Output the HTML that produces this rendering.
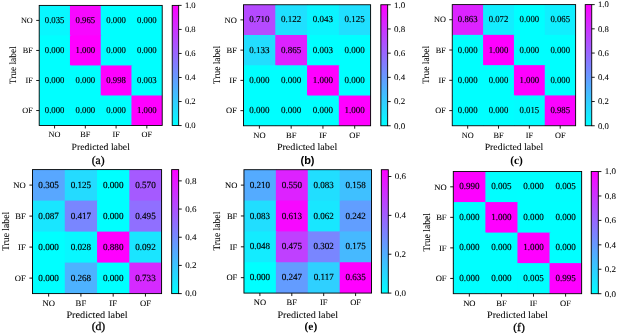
<!DOCTYPE html>
<html><head><meta charset="utf-8"><style>
html,body{margin:0;padding:0;background:#fff;width:617px;height:333px;overflow:hidden}
svg{display:block}
text{font-family:"Liberation Serif","Times New Roman",serif;fill:#000;text-rendering:geometricPrecision;stroke:#000;stroke-width:0.06px}
.n{font-size:8.77px;text-anchor:middle;stroke-width:0.14px}
.tl{font-size:8.3px}
.cbl{font-size:8.7px}
.pl{font-size:9.87px}
.tlab{font-size:9.7px}
.capb{font-weight:bold;stroke-width:0}
.capm{stroke-width:0.3px}
.caps{font-family:"Liberation Sans",Arial,sans-serif}
.t{stroke:#000;stroke-width:0.9;fill:none}
.fr{fill:none;stroke:#000;stroke-width:0.9}
</style></head><body>
<svg width="617" height="333" viewBox="0 0 617 333"><defs><linearGradient id="cool" x1="0" y1="1" x2="0" y2="0"><stop offset="0" stop-color="#00ffff"/><stop offset="1" stop-color="#ff00ff"/></linearGradient></defs><rect width="617" height="333" fill="#fff"/><rect x="39.2" y="5.4" width="31.75" height="31.025" fill="#08f7ff"/><rect x="69.95" y="5.4" width="31.75" height="31.025" fill="#f708ff"/><rect x="100.7" y="5.4" width="31.75" height="31.025" fill="#00ffff"/><rect x="131.45" y="5.4" width="30.75" height="31.025" fill="#00ffff"/><rect x="39.2" y="35.425" width="31.75" height="31.025" fill="#00ffff"/><rect x="69.95" y="35.425" width="31.75" height="31.025" fill="#ff00ff"/><rect x="100.7" y="35.425" width="31.75" height="31.025" fill="#00ffff"/><rect x="131.45" y="35.425" width="30.75" height="31.025" fill="#00ffff"/><rect x="39.2" y="65.45" width="31.75" height="31.025" fill="#00ffff"/><rect x="69.95" y="65.45" width="31.75" height="31.025" fill="#00ffff"/><rect x="100.7" y="65.45" width="31.75" height="31.025" fill="#ff00ff"/><rect x="131.45" y="65.45" width="30.75" height="31.025" fill="#00ffff"/><rect x="39.2" y="95.475" width="31.75" height="30.025" fill="#00ffff"/><rect x="69.95" y="95.475" width="31.75" height="30.025" fill="#00ffff"/><rect x="100.7" y="95.475" width="31.75" height="30.025" fill="#00ffff"/><rect x="131.45" y="95.475" width="30.75" height="30.025" fill="#ff00ff"/><rect x="172.2" y="5.4" width="6.45" height="120.1" fill="url(#cool)"/><g transform="translate(39.2 5.4) scale(0.992 0.969)"><text class="n" transform="translate(15.5 18.15) scale(1 1.07)">0.035</text><text class="n" transform="translate(46.5 18.15) scale(1 1.07)">0.965</text><text class="n" transform="translate(77.5 18.15) scale(1 1.07)">0.000</text><text class="n" transform="translate(108.5 18.15) scale(1 1.07)">0.000</text><text class="n" transform="translate(15.5 49.15) scale(1 1.07)">0.000</text><text class="n" transform="translate(46.5 49.15) scale(1 1.07)">1.000</text><text class="n" transform="translate(77.5 49.15) scale(1 1.07)">0.000</text><text class="n" transform="translate(108.5 49.15) scale(1 1.07)">0.000</text><text class="n" transform="translate(15.5 80.15) scale(1 1.07)">0.000</text><text class="n" transform="translate(46.5 80.15) scale(1 1.07)">0.000</text><text class="n" transform="translate(77.5 80.15) scale(1 1.07)">0.998</text><text class="n" transform="translate(108.5 80.15) scale(1 1.07)">0.003</text><text class="n" transform="translate(15.5 111.15) scale(1 1.07)">0.000</text><text class="n" transform="translate(46.5 111.15) scale(1 1.07)">0.000</text><text class="n" transform="translate(77.5 111.15) scale(1 1.07)">0.000</text><text class="n" transform="translate(108.5 111.15) scale(1 1.07)">1.000</text><rect x="0" y="0" width="124" height="124" class="fr"/><path d="M-3 15.5H0" class="t"/><text class="tl" x="-6.45" y="18.27" text-anchor="end">NO</text><path d="M-3 46.5H0" class="t"/><text class="tl" x="-6.45" y="49.27" text-anchor="end">BF</text><path d="M-3 77.5H0" class="t"/><text class="tl" x="-6.45" y="80.27" text-anchor="end">IF</text><path d="M-3 108.5H0" class="t"/><text class="tl" x="-6.45" y="111.27" text-anchor="end">OF</text><path d="M15.5 124V127" class="t"/><text class="tl" x="15.5" y="136.2" text-anchor="middle">NO</text><path d="M46.5 124V127" class="t"/><text class="tl" x="46.5" y="136.2" text-anchor="middle">BF</text><path d="M77.5 124V127" class="t"/><text class="tl" x="77.5" y="136.2" text-anchor="middle">IF</text><path d="M108.5 124V127" class="t"/><text class="tl" x="108.5" y="136.2" text-anchor="middle">OF</text><text class="pl" x="62" y="148.85" text-anchor="middle">Predicted label</text><text class="tlab" transform="translate(-22.9 61.8) rotate(-90)" text-anchor="middle">True label</text><rect x="134.081" y="0" width="6.502" height="124" class="fr"/><path d="M140.584 124H143.584" class="t"/><text class="cbl" x="146.884" y="126.9">0.0</text><path d="M140.584 99.2H143.584" class="t"/><text class="cbl" x="146.884" y="102.1">0.2</text><path d="M140.584 74.4H143.584" class="t"/><text class="cbl" x="146.884" y="77.3">0.4</text><path d="M140.584 49.6H143.584" class="t"/><text class="cbl" x="146.884" y="52.5">0.6</text><path d="M140.584 24.8H143.584" class="t"/><text class="cbl" x="146.884" y="27.7">0.8</text><path d="M140.584 0H143.584" class="t"/><text class="cbl" x="146.884" y="2.9">1.0</text></g><text class="cap capm" x="98.2" y="163.6" text-anchor="middle" style="font-size:11.6px">(a)</text><rect x="243.5" y="4.75" width="32.775" height="31.262" fill="#b54aff"/><rect x="275.275" y="4.75" width="32.775" height="31.262" fill="#1fe0ff"/><rect x="307.05" y="4.75" width="32.775" height="31.262" fill="#0bf4ff"/><rect x="338.825" y="4.75" width="31.775" height="31.262" fill="#20dfff"/><rect x="243.5" y="35.013" width="32.775" height="31.262" fill="#22ddff"/><rect x="275.275" y="35.013" width="32.775" height="31.262" fill="#dd22ff"/><rect x="307.05" y="35.013" width="32.775" height="31.262" fill="#00ffff"/><rect x="338.825" y="35.013" width="31.775" height="31.262" fill="#00ffff"/><rect x="243.5" y="65.275" width="32.775" height="31.262" fill="#00ffff"/><rect x="275.275" y="65.275" width="32.775" height="31.262" fill="#00ffff"/><rect x="307.05" y="65.275" width="32.775" height="31.262" fill="#ff00ff"/><rect x="338.825" y="65.275" width="31.775" height="31.262" fill="#00ffff"/><rect x="243.5" y="95.537" width="32.775" height="30.262" fill="#00ffff"/><rect x="275.275" y="95.537" width="32.775" height="30.262" fill="#00ffff"/><rect x="307.05" y="95.537" width="32.775" height="30.262" fill="#00ffff"/><rect x="338.825" y="95.537" width="31.775" height="30.262" fill="#ff00ff"/><rect x="380.85" y="4.75" width="6.8" height="121.05" fill="url(#cool)"/><g transform="translate(243.5 4.75) scale(1.025 0.976)"><text class="n" transform="translate(15.5 18.15) scale(1 1.07)">0.710</text><text class="n" transform="translate(46.5 18.15) scale(1 1.07)">0.122</text><text class="n" transform="translate(77.5 18.15) scale(1 1.07)">0.043</text><text class="n" transform="translate(108.5 18.15) scale(1 1.07)">0.125</text><text class="n" transform="translate(15.5 49.15) scale(1 1.07)">0.133</text><text class="n" transform="translate(46.5 49.15) scale(1 1.07)">0.865</text><text class="n" transform="translate(77.5 49.15) scale(1 1.07)">0.003</text><text class="n" transform="translate(108.5 49.15) scale(1 1.07)">0.000</text><text class="n" transform="translate(15.5 80.15) scale(1 1.07)">0.000</text><text class="n" transform="translate(46.5 80.15) scale(1 1.07)">0.000</text><text class="n" transform="translate(77.5 80.15) scale(1 1.07)">1.000</text><text class="n" transform="translate(108.5 80.15) scale(1 1.07)">0.000</text><text class="n" transform="translate(15.5 111.15) scale(1 1.07)">0.000</text><text class="n" transform="translate(46.5 111.15) scale(1 1.07)">0.000</text><text class="n" transform="translate(77.5 111.15) scale(1 1.07)">0.000</text><text class="n" transform="translate(108.5 111.15) scale(1 1.07)">1.000</text><rect x="0" y="0" width="124" height="124" class="fr"/><path d="M-3 15.5H0" class="t"/><text class="tl" x="-6.45" y="18.27" text-anchor="end">NO</text><path d="M-3 46.5H0" class="t"/><text class="tl" x="-6.45" y="49.27" text-anchor="end">BF</text><path d="M-3 77.5H0" class="t"/><text class="tl" x="-6.45" y="80.27" text-anchor="end">IF</text><path d="M-3 108.5H0" class="t"/><text class="tl" x="-6.45" y="111.27" text-anchor="end">OF</text><path d="M15.5 124V127" class="t"/><text class="tl" x="15.5" y="136.2" text-anchor="middle">NO</text><path d="M46.5 124V127" class="t"/><text class="tl" x="46.5" y="136.2" text-anchor="middle">BF</text><path d="M77.5 124V127" class="t"/><text class="tl" x="77.5" y="136.2" text-anchor="middle">IF</text><path d="M108.5 124V127" class="t"/><text class="tl" x="108.5" y="136.2" text-anchor="middle">OF</text><text class="pl" x="62" y="148.85" text-anchor="middle">Predicted label</text><text class="tlab" transform="translate(-22.9 61.8) rotate(-90)" text-anchor="middle">True label</text><rect x="134" y="0" width="6.634" height="124" class="fr"/><path d="M140.634 124H143.634" class="t"/><text class="cbl" x="146.934" y="126.9">0.0</text><path d="M140.634 99.2H143.634" class="t"/><text class="cbl" x="146.934" y="102.1">0.2</text><path d="M140.634 74.4H143.634" class="t"/><text class="cbl" x="146.934" y="77.3">0.4</text><path d="M140.634 49.6H143.634" class="t"/><text class="cbl" x="146.934" y="52.5">0.6</text><path d="M140.634 24.8H143.634" class="t"/><text class="cbl" x="146.934" y="27.7">0.8</text><path d="M140.634 0H143.634" class="t"/><text class="cbl" x="146.934" y="2.9">1.0</text></g><text class="cap caps capb" x="307.5" y="163.8" text-anchor="middle" style="font-size:11px">(b)</text><rect x="452.25" y="4.6" width="31.838" height="31.275" fill="#dc23ff"/><rect x="483.087" y="4.6" width="31.838" height="31.275" fill="#12edff"/><rect x="513.925" y="4.6" width="31.838" height="31.275" fill="#00ffff"/><rect x="544.763" y="4.6" width="30.838" height="31.275" fill="#10efff"/><rect x="452.25" y="34.875" width="31.838" height="31.275" fill="#00ffff"/><rect x="483.087" y="34.875" width="31.838" height="31.275" fill="#ff00ff"/><rect x="513.925" y="34.875" width="31.838" height="31.275" fill="#00ffff"/><rect x="544.763" y="34.875" width="30.838" height="31.275" fill="#00ffff"/><rect x="452.25" y="65.15" width="31.838" height="31.275" fill="#00ffff"/><rect x="483.087" y="65.15" width="31.838" height="31.275" fill="#00ffff"/><rect x="513.925" y="65.15" width="31.838" height="31.275" fill="#ff00ff"/><rect x="544.763" y="65.15" width="30.838" height="31.275" fill="#00ffff"/><rect x="452.25" y="95.425" width="31.838" height="30.275" fill="#00ffff"/><rect x="483.087" y="95.425" width="31.838" height="30.275" fill="#00ffff"/><rect x="513.925" y="95.425" width="31.838" height="30.275" fill="#03fcff"/><rect x="544.763" y="95.425" width="30.838" height="30.275" fill="#fc03ff"/><rect x="585.2" y="4.6" width="6.5" height="121.1" fill="url(#cool)"/><g transform="translate(452.25 4.6) scale(0.995 0.977)"><text class="n" transform="translate(15.5 18.15) scale(1 1.07)">0.863</text><text class="n" transform="translate(46.5 18.15) scale(1 1.07)">0.072</text><text class="n" transform="translate(77.5 18.15) scale(1 1.07)">0.000</text><text class="n" transform="translate(108.5 18.15) scale(1 1.07)">0.065</text><text class="n" transform="translate(15.5 49.15) scale(1 1.07)">0.000</text><text class="n" transform="translate(46.5 49.15) scale(1 1.07)">1.000</text><text class="n" transform="translate(77.5 49.15) scale(1 1.07)">0.000</text><text class="n" transform="translate(108.5 49.15) scale(1 1.07)">0.000</text><text class="n" transform="translate(15.5 80.15) scale(1 1.07)">0.000</text><text class="n" transform="translate(46.5 80.15) scale(1 1.07)">0.000</text><text class="n" transform="translate(77.5 80.15) scale(1 1.07)">1.000</text><text class="n" transform="translate(108.5 80.15) scale(1 1.07)">0.000</text><text class="n" transform="translate(15.5 111.15) scale(1 1.07)">0.000</text><text class="n" transform="translate(46.5 111.15) scale(1 1.07)">0.000</text><text class="n" transform="translate(77.5 111.15) scale(1 1.07)">0.015</text><text class="n" transform="translate(108.5 111.15) scale(1 1.07)">0.985</text><rect x="0" y="0" width="124" height="124" class="fr"/><path d="M-3 15.5H0" class="t"/><text class="tl" x="-6.45" y="18.27" text-anchor="end">NO</text><path d="M-3 46.5H0" class="t"/><text class="tl" x="-6.45" y="49.27" text-anchor="end">BF</text><path d="M-3 77.5H0" class="t"/><text class="tl" x="-6.45" y="80.27" text-anchor="end">IF</text><path d="M-3 108.5H0" class="t"/><text class="tl" x="-6.45" y="111.27" text-anchor="end">OF</text><path d="M15.5 124V127" class="t"/><text class="tl" x="15.5" y="136.2" text-anchor="middle">NO</text><path d="M46.5 124V127" class="t"/><text class="tl" x="46.5" y="136.2" text-anchor="middle">BF</text><path d="M77.5 124V127" class="t"/><text class="tl" x="77.5" y="136.2" text-anchor="middle">IF</text><path d="M108.5 124V127" class="t"/><text class="tl" x="108.5" y="136.2" text-anchor="middle">OF</text><text class="pl" x="62" y="148.85" text-anchor="middle">Predicted label</text><text class="tlab" transform="translate(-22.9 61.8) rotate(-90)" text-anchor="middle">True label</text><rect x="133.651" y="0" width="6.534" height="124" class="fr"/><path d="M140.185 124H143.185" class="t"/><text class="cbl" x="146.485" y="126.9">0.0</text><path d="M140.185 99.2H143.185" class="t"/><text class="cbl" x="146.485" y="102.1">0.2</text><path d="M140.185 74.4H143.185" class="t"/><text class="cbl" x="146.485" y="77.3">0.4</text><path d="M140.185 49.6H143.185" class="t"/><text class="cbl" x="146.485" y="52.5">0.6</text><path d="M140.185 24.8H143.185" class="t"/><text class="cbl" x="146.485" y="27.7">0.8</text><path d="M140.185 0H143.185" class="t"/><text class="cbl" x="146.485" y="2.9">1.0</text></g><text class="cap capb" x="516.6" y="163.9" text-anchor="middle" style="font-size:11.4px">(c)</text><rect x="32.5" y="169.6" width="33.275" height="32" fill="#58a7ff"/><rect x="64.775" y="169.6" width="33.275" height="32" fill="#24dbff"/><rect x="97.05" y="169.6" width="33.275" height="32" fill="#00ffff"/><rect x="129.325" y="169.6" width="32.275" height="32" fill="#a55aff"/><rect x="32.5" y="200.6" width="33.275" height="32" fill="#19e6ff"/><rect x="64.775" y="200.6" width="33.275" height="32" fill="#7986ff"/><rect x="97.05" y="200.6" width="33.275" height="32" fill="#00ffff"/><rect x="129.325" y="200.6" width="32.275" height="32" fill="#906fff"/><rect x="32.5" y="231.6" width="33.275" height="32" fill="#00ffff"/><rect x="64.775" y="231.6" width="33.275" height="32" fill="#08f7ff"/><rect x="97.05" y="231.6" width="33.275" height="32" fill="#ff00ff"/><rect x="129.325" y="231.6" width="32.275" height="32" fill="#1ae5ff"/><rect x="32.5" y="262.6" width="33.275" height="31" fill="#00ffff"/><rect x="64.775" y="262.6" width="33.275" height="31" fill="#4db2ff"/><rect x="97.05" y="262.6" width="33.275" height="31" fill="#00ffff"/><rect x="129.325" y="262.6" width="32.275" height="31" fill="#d52aff"/><rect x="171.7" y="169.6" width="6.95" height="124" fill="url(#cool)"/><g transform="translate(32.5 169.6) scale(1.041 1)"><text class="n" transform="translate(15.5 18.15) scale(1 1.07)">0.305</text><text class="n" transform="translate(46.5 18.15) scale(1 1.07)">0.125</text><text class="n" transform="translate(77.5 18.15) scale(1 1.07)">0.000</text><text class="n" transform="translate(108.5 18.15) scale(1 1.07)">0.570</text><text class="n" transform="translate(15.5 49.15) scale(1 1.07)">0.087</text><text class="n" transform="translate(46.5 49.15) scale(1 1.07)">0.417</text><text class="n" transform="translate(77.5 49.15) scale(1 1.07)">0.000</text><text class="n" transform="translate(108.5 49.15) scale(1 1.07)">0.495</text><text class="n" transform="translate(15.5 80.15) scale(1 1.07)">0.000</text><text class="n" transform="translate(46.5 80.15) scale(1 1.07)">0.028</text><text class="n" transform="translate(77.5 80.15) scale(1 1.07)">0.880</text><text class="n" transform="translate(108.5 80.15) scale(1 1.07)">0.092</text><text class="n" transform="translate(15.5 111.15) scale(1 1.07)">0.000</text><text class="n" transform="translate(46.5 111.15) scale(1 1.07)">0.268</text><text class="n" transform="translate(77.5 111.15) scale(1 1.07)">0.000</text><text class="n" transform="translate(108.5 111.15) scale(1 1.07)">0.733</text><rect x="0" y="0" width="124" height="124" class="fr"/><path d="M-3 15.5H0" class="t"/><text class="tl" x="-6.45" y="18.27" text-anchor="end">NO</text><path d="M-3 46.5H0" class="t"/><text class="tl" x="-6.45" y="49.27" text-anchor="end">BF</text><path d="M-3 77.5H0" class="t"/><text class="tl" x="-6.45" y="80.27" text-anchor="end">IF</text><path d="M-3 108.5H0" class="t"/><text class="tl" x="-6.45" y="111.27" text-anchor="end">OF</text><path d="M15.5 124V127" class="t"/><text class="tl" x="15.5" y="136.2" text-anchor="middle">NO</text><path d="M46.5 124V127" class="t"/><text class="tl" x="46.5" y="136.2" text-anchor="middle">BF</text><path d="M77.5 124V127" class="t"/><text class="tl" x="77.5" y="136.2" text-anchor="middle">IF</text><path d="M108.5 124V127" class="t"/><text class="tl" x="108.5" y="136.2" text-anchor="middle">OF</text><text class="pl" x="62" y="148.85" text-anchor="middle">Predicted label</text><text class="tlab" transform="translate(-22.9 61.8) rotate(-90)" text-anchor="middle">True label</text><rect x="133.701" y="0" width="6.675" height="124" class="fr"/><path d="M140.376 124H143.376" class="t"/><text class="cbl" x="146.676" y="126.9">0.0</text><path d="M140.376 95.818H143.376" class="t"/><text class="cbl" x="146.676" y="98.718">0.2</text><path d="M140.376 67.636H143.376" class="t"/><text class="cbl" x="146.676" y="70.536">0.4</text><path d="M140.376 39.455H143.376" class="t"/><text class="cbl" x="146.676" y="42.355">0.6</text><path d="M140.376 11.273H143.376" class="t"/><text class="cbl" x="146.676" y="14.173">0.8</text></g><text class="cap capm" x="98.4" y="330.2" text-anchor="middle" style="font-size:11.6px">(d)</text><rect x="243.95" y="169.7" width="32.913" height="31.85" fill="#54abff"/><rect x="275.863" y="169.7" width="32.913" height="31.85" fill="#dd22ff"/><rect x="307.775" y="169.7" width="32.913" height="31.85" fill="#21deff"/><rect x="339.688" y="169.7" width="31.913" height="31.85" fill="#3fc0ff"/><rect x="243.95" y="200.55" width="32.913" height="31.85" fill="#21deff"/><rect x="275.863" y="200.55" width="32.913" height="31.85" fill="#f708ff"/><rect x="307.775" y="200.55" width="32.913" height="31.85" fill="#18e7ff"/><rect x="339.688" y="200.55" width="31.913" height="31.85" fill="#619eff"/><rect x="243.95" y="231.4" width="32.913" height="31.85" fill="#13ecff"/><rect x="275.863" y="231.4" width="32.913" height="31.85" fill="#bf40ff"/><rect x="307.775" y="231.4" width="32.913" height="31.85" fill="#7986ff"/><rect x="339.688" y="231.4" width="31.913" height="31.85" fill="#46b9ff"/><rect x="243.95" y="262.25" width="32.913" height="30.85" fill="#00ffff"/><rect x="275.863" y="262.25" width="32.913" height="30.85" fill="#639cff"/><rect x="307.775" y="262.25" width="32.913" height="30.85" fill="#2fd0ff"/><rect x="339.688" y="262.25" width="31.913" height="30.85" fill="#ff00ff"/><rect x="381.4" y="169.7" width="6.95" height="123.4" fill="url(#cool)"/><g transform="translate(243.95 169.7) scale(1.029 0.995)"><text class="n" transform="translate(15.5 18.15) scale(1 1.07)">0.210</text><text class="n" transform="translate(46.5 18.15) scale(1 1.07)">0.550</text><text class="n" transform="translate(77.5 18.15) scale(1 1.07)">0.083</text><text class="n" transform="translate(108.5 18.15) scale(1 1.07)">0.158</text><text class="n" transform="translate(15.5 49.15) scale(1 1.07)">0.083</text><text class="n" transform="translate(46.5 49.15) scale(1 1.07)">0.613</text><text class="n" transform="translate(77.5 49.15) scale(1 1.07)">0.062</text><text class="n" transform="translate(108.5 49.15) scale(1 1.07)">0.242</text><text class="n" transform="translate(15.5 80.15) scale(1 1.07)">0.048</text><text class="n" transform="translate(46.5 80.15) scale(1 1.07)">0.475</text><text class="n" transform="translate(77.5 80.15) scale(1 1.07)">0.302</text><text class="n" transform="translate(108.5 80.15) scale(1 1.07)">0.175</text><text class="n" transform="translate(15.5 111.15) scale(1 1.07)">0.000</text><text class="n" transform="translate(46.5 111.15) scale(1 1.07)">0.247</text><text class="n" transform="translate(77.5 111.15) scale(1 1.07)">0.117</text><text class="n" transform="translate(108.5 111.15) scale(1 1.07)">0.635</text><rect x="0" y="0" width="124" height="124" class="fr"/><path d="M-3 15.5H0" class="t"/><text class="tl" x="-6.45" y="18.27" text-anchor="end">NO</text><path d="M-3 46.5H0" class="t"/><text class="tl" x="-6.45" y="49.27" text-anchor="end">BF</text><path d="M-3 77.5H0" class="t"/><text class="tl" x="-6.45" y="80.27" text-anchor="end">IF</text><path d="M-3 108.5H0" class="t"/><text class="tl" x="-6.45" y="111.27" text-anchor="end">OF</text><path d="M15.5 124V127" class="t"/><text class="tl" x="15.5" y="136.2" text-anchor="middle">NO</text><path d="M46.5 124V127" class="t"/><text class="tl" x="46.5" y="136.2" text-anchor="middle">BF</text><path d="M77.5 124V127" class="t"/><text class="tl" x="77.5" y="136.2" text-anchor="middle">IF</text><path d="M108.5 124V127" class="t"/><text class="tl" x="108.5" y="136.2" text-anchor="middle">OF</text><text class="pl" x="62" y="148.85" text-anchor="middle">Predicted label</text><text class="tlab" transform="translate(-22.9 61.8) rotate(-90)" text-anchor="middle">True label</text><rect x="133.52" y="0" width="6.751" height="124" class="fr"/><path d="M140.271 124H143.271" class="t"/><text class="cbl" x="146.571" y="126.9">0.0</text><path d="M140.271 84.945H143.271" class="t"/><text class="cbl" x="146.571" y="87.845">0.2</text><path d="M140.271 45.89H143.271" class="t"/><text class="cbl" x="146.571" y="48.79">0.4</text><path d="M140.271 6.835H143.271" class="t"/><text class="cbl" x="146.571" y="9.735">0.6</text></g><text class="cap capb" x="310.9" y="330.4" text-anchor="middle" style="font-size:11.4px">(e)</text><rect x="453.3" y="171.55" width="33.075" height="31.525" fill="#fd02ff"/><rect x="485.375" y="171.55" width="33.075" height="31.525" fill="#01feff"/><rect x="517.45" y="171.55" width="33.075" height="31.525" fill="#00ffff"/><rect x="549.525" y="171.55" width="32.075" height="31.525" fill="#01feff"/><rect x="453.3" y="202.075" width="33.075" height="31.525" fill="#00ffff"/><rect x="485.375" y="202.075" width="33.075" height="31.525" fill="#ff00ff"/><rect x="517.45" y="202.075" width="33.075" height="31.525" fill="#00ffff"/><rect x="549.525" y="202.075" width="32.075" height="31.525" fill="#00ffff"/><rect x="453.3" y="232.6" width="33.075" height="31.525" fill="#00ffff"/><rect x="485.375" y="232.6" width="33.075" height="31.525" fill="#00ffff"/><rect x="517.45" y="232.6" width="33.075" height="31.525" fill="#ff00ff"/><rect x="549.525" y="232.6" width="32.075" height="31.525" fill="#00ffff"/><rect x="453.3" y="263.125" width="33.075" height="30.525" fill="#00ffff"/><rect x="485.375" y="263.125" width="33.075" height="30.525" fill="#00ffff"/><rect x="517.45" y="263.125" width="33.075" height="30.525" fill="#01feff"/><rect x="549.525" y="263.125" width="32.075" height="30.525" fill="#fe01ff"/><rect x="591.2" y="171.55" width="7.05" height="122.1" fill="url(#cool)"/><g transform="translate(453.3 171.55) scale(1.035 0.985)"><text class="n" transform="translate(15.5 18.15) scale(1 1.07)">0.990</text><text class="n" transform="translate(46.5 18.15) scale(1 1.07)">0.005</text><text class="n" transform="translate(77.5 18.15) scale(1 1.07)">0.000</text><text class="n" transform="translate(108.5 18.15) scale(1 1.07)">0.005</text><text class="n" transform="translate(15.5 49.15) scale(1 1.07)">0.000</text><text class="n" transform="translate(46.5 49.15) scale(1 1.07)">1.000</text><text class="n" transform="translate(77.5 49.15) scale(1 1.07)">0.000</text><text class="n" transform="translate(108.5 49.15) scale(1 1.07)">0.000</text><text class="n" transform="translate(15.5 80.15) scale(1 1.07)">0.000</text><text class="n" transform="translate(46.5 80.15) scale(1 1.07)">0.000</text><text class="n" transform="translate(77.5 80.15) scale(1 1.07)">1.000</text><text class="n" transform="translate(108.5 80.15) scale(1 1.07)">0.000</text><text class="n" transform="translate(15.5 111.15) scale(1 1.07)">0.000</text><text class="n" transform="translate(46.5 111.15) scale(1 1.07)">0.000</text><text class="n" transform="translate(77.5 111.15) scale(1 1.07)">0.005</text><text class="n" transform="translate(108.5 111.15) scale(1 1.07)">0.995</text><rect x="0" y="0" width="124" height="124" class="fr"/><path d="M-3 15.5H0" class="t"/><text class="tl" x="-6.45" y="18.27" text-anchor="end">NO</text><path d="M-3 46.5H0" class="t"/><text class="tl" x="-6.45" y="49.27" text-anchor="end">BF</text><path d="M-3 77.5H0" class="t"/><text class="tl" x="-6.45" y="80.27" text-anchor="end">IF</text><path d="M-3 108.5H0" class="t"/><text class="tl" x="-6.45" y="111.27" text-anchor="end">OF</text><path d="M15.5 124V127" class="t"/><text class="tl" x="15.5" y="136.2" text-anchor="middle">NO</text><path d="M46.5 124V127" class="t"/><text class="tl" x="46.5" y="136.2" text-anchor="middle">BF</text><path d="M77.5 124V127" class="t"/><text class="tl" x="77.5" y="136.2" text-anchor="middle">IF</text><path d="M108.5 124V127" class="t"/><text class="tl" x="108.5" y="136.2" text-anchor="middle">OF</text><text class="pl" x="62" y="148.85" text-anchor="middle">Predicted label</text><text class="tlab" transform="translate(-22.9 61.8) rotate(-90)" text-anchor="middle">True label</text><rect x="133.278" y="0" width="6.814" height="124" class="fr"/><path d="M140.092 124H143.092" class="t"/><text class="cbl" x="146.392" y="126.9">0.0</text><path d="M140.092 99.2H143.092" class="t"/><text class="cbl" x="146.392" y="102.1">0.2</text><path d="M140.092 74.4H143.092" class="t"/><text class="cbl" x="146.392" y="77.3">0.4</text><path d="M140.092 49.6H143.092" class="t"/><text class="cbl" x="146.392" y="52.5">0.6</text><path d="M140.092 24.8H143.092" class="t"/><text class="cbl" x="146.392" y="27.7">0.8</text><path d="M140.092 0H143.092" class="t"/><text class="cbl" x="146.392" y="2.9">1.0</text></g><text class="cap capm" x="519" y="330.9" text-anchor="middle" style="font-size:11.6px">(f)</text></svg>
</body></html>
